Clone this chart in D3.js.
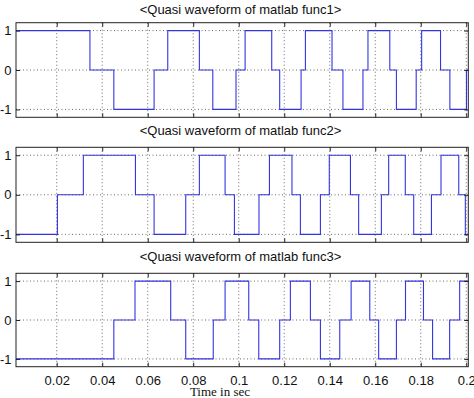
<!DOCTYPE html>
<html>
<head>
<meta charset="utf-8">
<script src="https://cdn.jsdelivr.net/npm/d3@7"></script>
<style>
    body { margin: 0; background: #fff; }
    svg { display: block; }
</style>
</head>
<body>
<svg id="chart" width="474" height="398"></svg>
<script>
/** ------------- DATA -------------- */

const timeRange = [0.0021, 0.2009];
const xTicks = [0.02, 0.04, 0.06, 0.08, 0.1, 0.12, 0.14, 0.16, 0.18, 0.2];
const yTicks = [-1, 0, 1];
const titles = [
    "<Quasi waveform of matlab func1>",
    "<Quasi waveform of matlab func2>",
    "<Quasi waveform of matlab func3>",
];
const xLabel = "Time in sec";

/** switching instants (s) and the level held from each instant on */
const func1Times = [0.0021, 0.0346, 0.0451, 0.0628, 0.0688, 0.0827, 0.0886, 0.0988, 0.1028,
    0.1145, 0.118, 0.1274, 0.1293, 0.141, 0.1458, 0.1546, 0.1568, 0.1664, 0.1693,
    0.178, 0.1804, 0.1887, 0.1928, 0.2001];
const func1Levels = [1, 0, -1, 0, 1, 0, -1, 0, 1,
    0, -1, 0, 1, 0, -1, 0, 1, 0, -1,
    0, 1, 0, -1, 0];

const func2Times = [0.0021, 0.0203, 0.0317, 0.0546, 0.0628, 0.0767, 0.0827, 0.094, 0.0981,
    0.1089, 0.1135, 0.1234, 0.1271, 0.1359, 0.1398, 0.1491, 0.1527, 0.1627, 0.1659,
    0.1732, 0.1769, 0.1847, 0.1889, 0.1967, 0.1996];
const func2Levels = [-1, 0, 1, 0, -1, 0, 1, 0, -1,
    0, 1, 0, -1, 0, 1, 0, -1, 0, 1,
    0, -1, 0, 1, 0, -1];

const func3Times = [0.0021, 0.0451, 0.0544, 0.0701, 0.0767, 0.0888, 0.094, 0.1044, 0.1088,
    0.118, 0.1227, 0.1315, 0.1359, 0.1444, 0.1494, 0.1576, 0.1615, 0.1693, 0.1733,
    0.1812, 0.1852, 0.1927, 0.1971];
const func3Levels = [-1, 0, 1, 0, -1, 0, 1, 0, -1,
    0, 1, 0, -1, 0, 1, 0, -1, 0, 1,
    0, -1, 0, 1];

const seriesTimes = [func1Times, func2Times, func3Times];
const seriesLevels = [func1Levels, func2Levels, func3Levels];

/** ------------- LAYOUT -------------- */

const svg = d3.select("#chart");
const left = 16;
const right = 468.3;
const panels = [
    { top: 22.7, bottom: 117.3, titleY: 13.5 },
    { top: 147.3, bottom: 242.3, titleY: 135 },
    { top: 273.3, bottom: 366.7, titleY: 261 },
];
const font = "'Liberation Sans', Arial, Helvetica, sans-serif";

const x = d3.scaleLinear().domain(timeRange).range([left, right]);

/**
 * Draw one MATLAB style subplot with dotted grid, inward ticks and a stepped trace
 * @param {object} p panel box
 * @param {number} i panel index
 */
function drawPanel(p, i) {
    const y = d3.scaleLinear().domain([-1.2, 1.2]).range([p.bottom, p.top]);
    const g = svg.append("g");
    const isLast = i === panels.length - 1;

    // dotted grid
    g.append("g")
        .selectAll("line")
        .data(xTicks)
        .join("line")
        .attr("x1", (d) => x(d))
        .attr("x2", (d) => x(d))
        .attr("y1", p.top)
        .attr("y2", p.bottom)
        .attr("stroke", "#444")
        .attr("stroke-width", 0.8)
        .attr("stroke-dasharray", "1,2.5");
    g.append("g")
        .selectAll("line")
        .data(yTicks)
        .join("line")
        .attr("x1", left)
        .attr("x2", right)
        .attr("y1", (d) => y(d))
        .attr("y2", (d) => y(d))
        .attr("stroke", "#444")
        .attr("stroke-width", 0.8)
        .attr("stroke-dasharray", "1,2.5");

    // trace
    const times = seriesTimes[i];
    const levels = seriesLevels[i];
    const pts = times.map((t, k) => ({ t: t, v: levels[k] }));
    pts.push({ t: timeRange[1], v: levels[levels.length - 1] });
    const line = d3
        .line()
        .curve(d3.curveStepAfter)
        .x((d) => x(d.t))
        .y((d) => y(d.v));
    g.append("path")
        .datum(pts)
        .attr("d", line)
        .attr("fill", "none")
        .attr("stroke", "#3535e0")
        .attr("stroke-width", 1.1);

    // axes with inward ticks
    const bottomAxis = d3
        .axisBottom(x)
        .tickValues(xTicks)
        .tickSizeInner(-4)
        .tickSizeOuter(0)
        .tickPadding(9)
        .tickFormat(isLast ? (d) => String(d) : () => "");
    const topAxis = d3
        .axisTop(x)
        .tickValues(xTicks)
        .tickSizeInner(-4)
        .tickSizeOuter(0)
        .tickFormat(() => "");
    const leftAxis = d3
        .axisLeft(y)
        .tickValues(yTicks)
        .tickSizeInner(-4)
        .tickSizeOuter(0)
        .tickPadding(4.5)
        .tickFormat((d) => String(d));
    const rightAxis = d3
        .axisRight(y)
        .tickValues(yTicks)
        .tickSizeInner(-4)
        .tickSizeOuter(0)
        .tickFormat(() => "");

    const axes = [
        g.append("g").attr("transform", `translate(0,${p.bottom})`).call(bottomAxis),
        g.append("g").attr("transform", `translate(0,${p.top})`).call(topAxis),
        g.append("g").attr("transform", `translate(${left},0)`).call(leftAxis),
        g.append("g").attr("transform", `translate(${right},0)`).call(rightAxis),
    ];
    axes.forEach((a) => {
        a.select(".domain").remove();
        a.selectAll(".tick line").attr("stroke", "#222");
        a.selectAll("text")
            .attr("fill", "#111")
            .style("font-family", font)
            .style("font-size", "13px");
    });

    // box
    g.append("rect")
        .attr("x", left)
        .attr("y", p.top)
        .attr("width", right - left)
        .attr("height", p.bottom - p.top)
        .attr("fill", "none")
        .attr("stroke", "#222")
        .attr("stroke-width", 1);

    // title
    svg.append("text")
        .attr("x", 240.5)
        .attr("y", p.titleY)
        .attr("text-anchor", "middle")
        .attr("fill", "#111")
        .style("font-family", font)
        .style("font-size", "13px")
        .text(titles[i]);
}

panels.forEach(drawPanel);

svg.append("text")
    .attr("x", 220)
    .attr("y", 396.3)
    .attr("text-anchor", "middle")
    .attr("fill", "#111")
    .style("font-family", "'Liberation Serif', 'Times New Roman', serif")
    .style("font-size", "13px")
    .text(xLabel);
</script>
</body>
</html>
